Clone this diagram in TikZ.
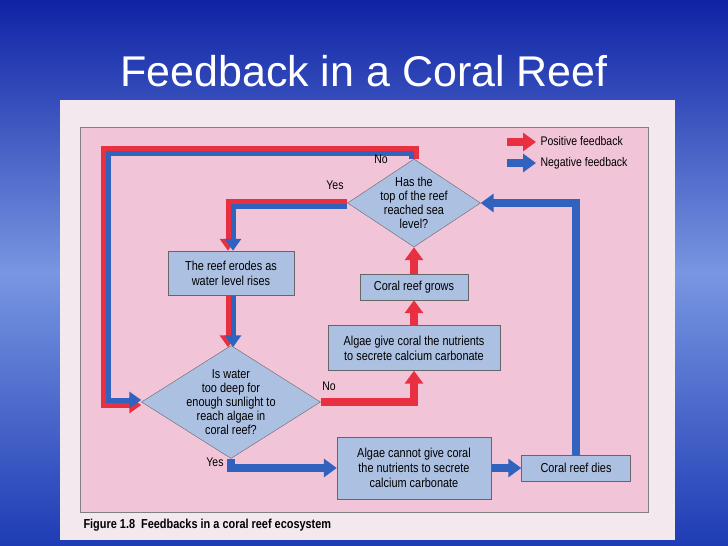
\documentclass[tikz,border=0pt]{standalone}
\usepackage{fontspec}
\setmainfont{Liberation Sans}
\newfontfamily\cond[FakeStretch=0.84]{Liberation Sans}
\usetikzlibrary{shapes.geometric,arrows.meta}
\definecolor{pinkbg}{RGB}{242,196,215}
\definecolor{paper}{RGB}{242,232,238}
\definecolor{boxfill}{RGB}{172,192,226}
\definecolor{fred}{RGB}{232,48,64}
\definecolor{fblue}{RGB}{48,98,190}
\definecolor{sky1}{RGB}{15,35,165}
\definecolor{sky2}{RGB}{120,150,225}
\definecolor{sky3}{RGB}{30,60,180}
\pgfdeclarelayer{bg}\pgfdeclarelayer{conn}
\pgfsetlayers{bg,conn,main}
\tikzset{
 box/.style={draw=black!60,fill=boxfill,align=center,font=\cond\fontsize{13}{15}\selectfont,inner sep=0pt},
 dia/.style={diamond,draw=black!60,fill=boxfill,inner sep=0pt},
 diatext/.style={align=center,font=\cond\fontsize{13}{14}\selectfont},
 lbl/.style={font=\cond\fontsize{12.5}{14}\selectfont},
 redl/.style={draw=fred,line width=5pt,-{Triangle[width=16pt,length=12pt]}},
 bluel/.style={draw=fblue,line width=5pt,-{Triangle[width=16pt,length=12pt]}},
 redw/.style={draw=fred,line width=8pt,-{Triangle[width=18pt,length=13pt]}},
 bluew/.style={draw=fblue,line width=8pt,-{Triangle[width=18pt,length=13pt]}},
}
\begin{document}
\begin{tikzpicture}[x=1pt,y=-1pt]
\useasboundingbox (0,0) rectangle (728,546);
\begin{pgfonlayer}{bg}
\shade[top color=sky1,bottom color=sky3,middle color=sky2] (0,0) rectangle (728,546);
\fill[paper] (60,100) rectangle (675,540);
\fill[pinkbg,draw=black!50] (80,127) rectangle (648,512);
\end{pgfonlayer}
\node[text=white,font=\fontsize{43}{48}\selectfont] (title) at (364,71) {Feedback in a Coral Reef};
\node[anchor=west,font=\bfseries\cond\fontsize{13}{15}\selectfont] (cap) at (80,525) {Figure 1.8\ \ Feedbacks in a coral reef ecosystem};

% nodes
\node[dia,minimum width=133pt,minimum height=88pt] (d1) at (414,203) {};
\node[diatext] (d1t) at (414,203) {Has the\\top of the reef\\reached sea\\level?};
\node[box,minimum width=126pt,minimum height=44pt] (erode) at (231,273) {The reef erodes as\\water level rises};
\node[box,minimum width=108pt,minimum height=26pt] (grows) at (414,287) {Coral reef grows};
\node[box,minimum width=172pt,minimum height=45pt] (give) at (414,348) {Algae give coral the nutrients\\to secrete calcium carbonate};
\node[dia,minimum width=179pt,minimum height=113pt] (d2) at (231,402) {};
\node[diatext] (d2t) at (231,402) {Is water\\too deep for\\enough sunlight to\\reach algae in\\coral reef?};
\node[box,minimum width=154pt,minimum height=62pt] (cannot) at (414,468) {Algae cannot give coral\\the nutrients to secrete\\calcium carbonate};
\node[box,minimum width=109pt,minimum height=26pt] (dies) at (576,468) {Coral reef dies};

\node[lbl] (no1) at (381,159) {No};
\node[lbl] (yes1) at (335,185) {Yes};
\node[lbl] (no2) at (329,386) {No};
\node[lbl] (yes2) at (215,462) {Yes};

% legend
\coordinate (lr1) at (507,142); \coordinate (lr2) at (536,142);
\coordinate (lb1) at (507,163); \coordinate (lb2) at (536,163);
\node[anchor=west,lbl] (lrt) at (537,141) {Positive feedback};
\node[anchor=west,lbl] (lbt) at (537,163) {Negative feedback};

\begin{pgfonlayer}{conn}
\draw[redw] (lr1) -- (lr2);
\draw[bluew] (lb1) -- (lb2);
\draw[redl] ([xshift=2pt]d1.north) |- (103,148) |- ([yshift=-3pt]d2.west);
\draw[bluel] ([xshift=-3pt]d1.north) |- (108,153) |- ([yshift=2pt]d2.west);
\draw[redl] ([yshift=2pt]d1.west) -| ([xshift=-3pt]erode.north);
\draw[bluel] ([yshift=-3pt]d1.west) -| ([xshift=2pt]erode.north);
\draw[redl] ([xshift=-3pt]erode.south) -- ([xshift=-3pt,yshift=-2pt]d2.north);
\draw[bluel] ([xshift=2pt]erode.south) -- ([xshift=2pt,yshift=-2pt]d2.north);
\draw[redw] (d2.east) -| (give.south);
\draw[redw] (give.north) -- (grows.south);
\draw[redw] (grows.north) -- (d1.south);
\draw[bluew] (d2.south) |- (cannot.west);
\draw[bluew] (cannot.east) -- (dies.west);
\draw[bluew] (dies.north) |- (d1.east);
\end{pgfonlayer}
\end{tikzpicture}
\end{document}
